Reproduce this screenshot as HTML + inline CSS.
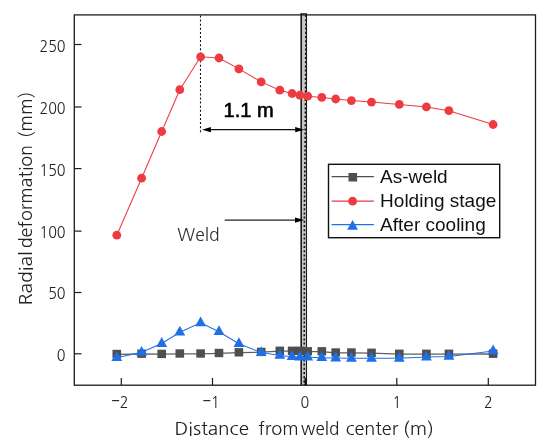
<!DOCTYPE html>
<html><head><meta charset="utf-8"><title>Radial deformation</title>
<style>
html,body{margin:0;padding:0;background:#fff;}
svg{display:block}
.tick{font-family:"NanumGothic","Liberation Sans",sans-serif;font-size:16px;fill:#222}
.ttl{font-family:"NanumGothic","Liberation Sans",sans-serif;font-size:18px;fill:#222}
.lg{font-family:"Liberation Sans",sans-serif;font-size:19px;fill:#111}
.b{font-family:"Liberation Sans",sans-serif;font-size:20px;fill:#000;stroke:#000;stroke-width:0.6px}
</style></head><body>
<svg width="550" height="445" viewBox="0 0 550 445">
<rect x="0" y="0" width="550" height="445" fill="#fff"/>
<rect x="301.2" y="13.9" width="5.3" height="371.3" fill="#c6c6c6" stroke="none"/>
<path d="M306.5,385.2 V13.9 H301.2" fill="none" stroke="#1c1c1c" stroke-width="1.1"/>
<line x1="301.2" y1="13.3" x2="301.2" y2="385.2" stroke="#1c1c1c" stroke-width="1.6"/>
<polyline points="306,15 305.2,140 304.4,210 304.2,385" fill="none" stroke="#111" stroke-width="1.6" stroke-dasharray="2 2.2"/>
<rect x="74.3" y="14.9" width="461.2" height="370.3" fill="none" stroke="#1c1c1c" stroke-width="1.3"/>
<line x1="121.3" y1="385.2" x2="121.3" y2="378.0" stroke="#1c1c1c" stroke-width="1.2"/>
<text class="tick" transform="translate(121.3,407.8) scale(0.9,1)" text-anchor="middle"><tspan dx="-1.6" dy="-1.8">−</tspan><tspan dy="1.8">2</tspan></text>
<line x1="212.5" y1="385.2" x2="212.5" y2="378.0" stroke="#1c1c1c" stroke-width="1.2"/>
<text class="tick" transform="translate(212.5,407.8) scale(0.9,1)" text-anchor="middle"><tspan dx="-1.6" dy="-1.8">−</tspan><tspan dy="1.8">1</tspan></text>
<line x1="305.7" y1="385.2" x2="305.7" y2="378.0" stroke="#111" stroke-width="2.2"/>
<text class="tick" transform="translate(304.9,407.8) scale(0.9,1)" text-anchor="middle">0</text>
<line x1="396.8" y1="385.2" x2="396.8" y2="378.0" stroke="#1c1c1c" stroke-width="1.2"/>
<text class="tick" transform="translate(396.8,407.8) scale(0.9,1)" text-anchor="middle">1</text>
<line x1="488.3" y1="385.2" x2="488.3" y2="378.0" stroke="#1c1c1c" stroke-width="1.2"/>
<text class="tick" transform="translate(488.3,407.8) scale(0.9,1)" text-anchor="middle">2</text>
<line x1="74.3" y1="44.5" x2="81.5" y2="44.5" stroke="#1c1c1c" stroke-width="1.2"/>
<text class="tick" transform="translate(65.6,52.0) scale(0.9,1)" text-anchor="end">250</text>
<line x1="74.3" y1="107.0" x2="81.5" y2="107.0" stroke="#1c1c1c" stroke-width="1.2"/>
<text class="tick" transform="translate(65.6,113.8) scale(0.9,1)" text-anchor="end">200</text>
<line x1="74.3" y1="168.6" x2="81.5" y2="168.6" stroke="#1c1c1c" stroke-width="1.2"/>
<text class="tick" transform="translate(65.6,175.9) scale(0.9,1)" text-anchor="end">150</text>
<line x1="74.3" y1="231.1" x2="81.5" y2="231.1" stroke="#1c1c1c" stroke-width="1.2"/>
<text class="tick" transform="translate(65.6,237.5) scale(0.9,1)" text-anchor="end">100</text>
<line x1="74.3" y1="292.5" x2="81.5" y2="292.5" stroke="#1c1c1c" stroke-width="1.2"/>
<text class="tick" transform="translate(65.6,298.8) scale(0.9,1)" text-anchor="end">50</text>
<line x1="74.3" y1="353.8" x2="81.5" y2="353.8" stroke="#1c1c1c" stroke-width="1.2"/>
<text class="tick" transform="translate(65.6,361.1) scale(0.9,1)" text-anchor="end">0</text>
<text class="ttl" y="434.6"><tspan x="174.55" textLength="74.55" lengthAdjust="spacingAndGlyphs">Distance</tspan> <tspan x="258.30" textLength="40.34" lengthAdjust="spacingAndGlyphs">from</tspan> <tspan x="301.10" textLength="38.26" lengthAdjust="spacingAndGlyphs">weld</tspan> <tspan x="345.70" textLength="52.63" lengthAdjust="spacingAndGlyphs">center</tspan> <tspan x="402.77" textLength="31.26" lengthAdjust="spacingAndGlyphs">(m)</tspan></text>
<text class="ttl" transform="rotate(-90)" y="32.3"><tspan x="-305.58" textLength="54.34" lengthAdjust="spacingAndGlyphs">Radial</tspan> <tspan x="-248.30" textLength="103.30" lengthAdjust="spacingAndGlyphs">deformation</tspan> <tspan x="-138.34" textLength="46.71" lengthAdjust="spacingAndGlyphs">(mm)</tspan></text>
<line x1="200.5" y1="15.5" x2="200.5" y2="133.6" stroke="#111" stroke-width="1.1" stroke-dasharray="2 2.1"/>
<line x1="205" y1="129.7" x2="300" y2="129.7" stroke="#111" stroke-width="1.25"/>
<polygon points="202.1,129.7 210.9,127.1 210.9,132.3" fill="#000"/>
<polygon points="304.5,129.7 295.2,127.1 295.2,132.3" fill="#000"/>
<text class="b" x="223.6" y="116.8">1.1 m</text>
<text class="ttl" x="177.3" y="240.7" style="font-size:17.5px;fill:#333">Weld</text>
<line x1="224.7" y1="220.1" x2="299" y2="220.1" stroke="#222" stroke-width="1.25"/>
<polygon points="304.2,220.1 295,217.4 295,222.8" fill="#000"/>
<polyline points="116.8,354.3 141.6,354.0 161.7,354.2 179.8,353.8 200.6,353.8 219.0,353.3 238.9,352.6 261.2,352.2 279.8,351.1 292.1,351.1 299.8,351.1 307.7,351.6 321.8,351.6 335.7,352.8 351.4,352.8 371.5,353.1 399.3,354.1 426.4,354.1 448.9,354.1 493.1,354.0" fill="none" stroke="#5e5e5e" stroke-width="1.3"/>
<rect x="112.5" y="349.8" width="8.6" height="8.4" fill="#4f4f4f"/>
<rect x="137.3" y="349.5" width="8.6" height="8.4" fill="#4f4f4f"/>
<rect x="157.4" y="349.7" width="8.6" height="8.4" fill="#4f4f4f"/>
<rect x="175.5" y="349.3" width="8.6" height="8.4" fill="#4f4f4f"/>
<rect x="196.3" y="349.3" width="8.6" height="8.4" fill="#4f4f4f"/>
<rect x="214.7" y="348.8" width="8.6" height="8.4" fill="#4f4f4f"/>
<rect x="234.6" y="348.1" width="8.6" height="8.4" fill="#4f4f4f"/>
<rect x="256.9" y="347.7" width="8.6" height="8.4" fill="#4f4f4f"/>
<rect x="275.5" y="346.6" width="8.6" height="8.4" fill="#4f4f4f"/>
<rect x="287.8" y="346.6" width="8.6" height="8.4" fill="#4f4f4f"/>
<rect x="295.5" y="346.6" width="8.6" height="8.4" fill="#4f4f4f"/>
<rect x="303.4" y="347.1" width="8.6" height="8.4" fill="#4f4f4f"/>
<rect x="317.5" y="347.1" width="8.6" height="8.4" fill="#4f4f4f"/>
<rect x="331.4" y="348.3" width="8.6" height="8.4" fill="#4f4f4f"/>
<rect x="347.1" y="348.3" width="8.6" height="8.4" fill="#4f4f4f"/>
<rect x="367.2" y="348.6" width="8.6" height="8.4" fill="#4f4f4f"/>
<rect x="395.0" y="349.6" width="8.6" height="8.4" fill="#4f4f4f"/>
<rect x="422.1" y="349.6" width="8.6" height="8.4" fill="#4f4f4f"/>
<rect x="444.6" y="349.6" width="8.6" height="8.4" fill="#4f4f4f"/>
<rect x="488.8" y="349.5" width="8.6" height="8.4" fill="#4f4f4f"/>
<polyline points="116.8,235.2 141.6,178.2 161.7,131.5 179.8,89.7 200.6,56.8 219.0,58.0 238.9,68.9 261.2,81.9 279.8,90.2 292.1,93.5 299.8,95.2 307.7,96.2 321.8,97.4 335.7,99.0 351.4,100.6 371.5,102.1 399.3,104.4 426.4,106.9 448.9,110.7 493.1,124.5" fill="none" stroke="#ee3b42" stroke-width="1.05"/>
<circle cx="116.8" cy="235.2" r="4.4" fill="#ee3b42"/>
<circle cx="141.6" cy="178.2" r="4.4" fill="#ee3b42"/>
<circle cx="161.7" cy="131.5" r="4.4" fill="#ee3b42"/>
<circle cx="179.8" cy="89.7" r="4.4" fill="#ee3b42"/>
<circle cx="200.6" cy="56.8" r="4.4" fill="#ee3b42"/>
<circle cx="219.0" cy="58.0" r="4.4" fill="#ee3b42"/>
<circle cx="238.9" cy="68.9" r="4.4" fill="#ee3b42"/>
<circle cx="261.2" cy="81.9" r="4.4" fill="#ee3b42"/>
<circle cx="279.8" cy="90.2" r="4.4" fill="#ee3b42"/>
<circle cx="292.1" cy="93.5" r="4.4" fill="#ee3b42"/>
<circle cx="299.8" cy="95.2" r="4.4" fill="#ee3b42"/>
<circle cx="307.7" cy="96.2" r="4.4" fill="#ee3b42"/>
<circle cx="321.8" cy="97.4" r="4.4" fill="#ee3b42"/>
<circle cx="335.7" cy="99.0" r="4.4" fill="#ee3b42"/>
<circle cx="351.4" cy="100.6" r="4.4" fill="#ee3b42"/>
<circle cx="371.5" cy="102.1" r="4.4" fill="#ee3b42"/>
<circle cx="399.3" cy="104.4" r="4.4" fill="#ee3b42"/>
<circle cx="426.4" cy="106.9" r="4.4" fill="#ee3b42"/>
<circle cx="448.9" cy="110.7" r="4.4" fill="#ee3b42"/>
<circle cx="493.1" cy="124.5" r="4.4" fill="#ee3b42"/>
<polyline points="116.8,357.7 141.6,352.3 161.7,343.5 179.8,332.2 200.6,322.8 219.0,331.7 238.9,343.7 261.2,352.6 279.8,355.4 292.1,356.7 299.8,357.2 307.7,357.2 321.8,357.7 335.7,358.0 351.4,358.3 371.5,358.3 399.3,358.3 426.4,357.1 448.9,356.4 493.1,350.9" fill="none" stroke="#1f6fe6" stroke-width="1.05"/>
<polygon points="116.8,351.2 111.4,361.1 122.2,361.1" fill="#1f6fe6"/>
<polygon points="141.6,345.9 136.2,355.8 147.0,355.8" fill="#1f6fe6"/>
<polygon points="161.7,337.1 156.3,346.9 167.1,346.9" fill="#1f6fe6"/>
<polygon points="179.8,325.8 174.4,335.6 185.2,335.6" fill="#1f6fe6"/>
<polygon points="200.6,316.4 195.2,326.2 206.0,326.2" fill="#1f6fe6"/>
<polygon points="219.0,325.2 213.6,335.1 224.4,335.1" fill="#1f6fe6"/>
<polygon points="238.9,337.2 233.5,347.1 244.3,347.1" fill="#1f6fe6"/>
<polygon points="261.2,346.2 255.8,356.1 266.6,356.1" fill="#1f6fe6"/>
<polygon points="279.8,348.9 274.4,358.8 285.2,358.8" fill="#1f6fe6"/>
<polygon points="292.1,350.2 286.7,360.1 297.5,360.1" fill="#1f6fe6"/>
<polygon points="299.8,350.8 294.4,360.6 305.2,360.6" fill="#1f6fe6"/>
<polygon points="307.7,350.8 302.3,360.6 313.1,360.6" fill="#1f6fe6"/>
<polygon points="321.8,351.2 316.4,361.1 327.2,361.1" fill="#1f6fe6"/>
<polygon points="335.7,351.6 330.3,361.4 341.1,361.4" fill="#1f6fe6"/>
<polygon points="351.4,351.9 346.0,361.8 356.8,361.8" fill="#1f6fe6"/>
<polygon points="371.5,351.9 366.1,361.8 376.9,361.8" fill="#1f6fe6"/>
<polygon points="399.3,351.9 393.9,361.8 404.7,361.8" fill="#1f6fe6"/>
<polygon points="426.4,350.7 421.0,360.6 431.8,360.6" fill="#1f6fe6"/>
<polygon points="448.9,349.9 443.5,359.8 454.3,359.8" fill="#1f6fe6"/>
<polygon points="493.1,344.4 487.7,354.3 498.5,354.3" fill="#1f6fe6"/>
<rect x="328.5" y="164.3" width="171.2" height="73.4" fill="#fff" stroke="#111" stroke-width="1.4"/>
<line x1="331.6" y1="176.6" x2="373.9" y2="176.6" stroke="#4f4f4f" stroke-width="1.3"/>
<rect x="348.5" y="173.0" width="8.6" height="8.5" fill="#4f4f4f"/>
<text class="lg" x="380.1" y="182.6">As-weld</text>
<line x1="331.6" y1="201.1" x2="373.9" y2="201.1" stroke="#ee3b42" stroke-width="1.3"/>
<circle cx="352.6" cy="201.2" r="4.4" fill="#ee3b42"/>
<text class="lg" x="380.1" y="206.8">Holding stage</text>
<line x1="331.6" y1="224.7" x2="373.9" y2="224.7" stroke="#1f6fe6" stroke-width="1.3"/>
<polygon points="352.6,219.9 347.2,229.8 358.0,229.8" fill="#1f6fe6"/>
<text class="lg" x="380.1" y="230.5">After cooling</text>
</svg></body></html>
